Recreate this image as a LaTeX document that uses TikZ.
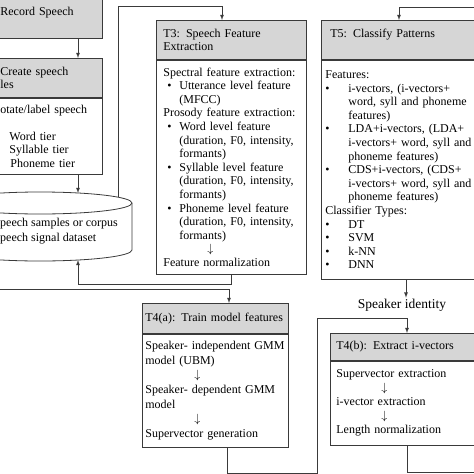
\documentclass[tikz,border=0pt]{standalone}
\usepackage{fontspec}
\setmainfont{Liberation Serif}
\usetikzlibrary{positioning}

\definecolor{headgray}{HTML}{D6D6D6}
\definecolor{boxline}{HTML}{3A3A3A}

\newcommand{\bul}[1]{\makebox[16pt][l]{\hspace*{4pt}\textbullet}#1}
\newcommand{\bulcont}[1]{\hspace*{16pt}#1}
\newcommand{\tbul}[1]{\makebox[23pt][l]{\textbullet}#1}
\newcommand{\tbulcont}[1]{\hspace*{23pt}#1}

\tikzset{
  box/.style={draw=boxline, line width=0.8pt, anchor=north west, align=left, inner xsep=7pt, inner ysep=3pt, font=\fontsize{12}{13.6}\selectfont},
  headbox/.style={box, fill=headgray},
  bodybox/.style={box, fill=white},
  wire/.style={draw=boxline, line width=0.8pt},
  link/.style={wire, ->, >=latex},
}

\begin{document}
\begin{tikzpicture}[x=1pt, y=-1pt]
\useasboundingbox (0,0) rectangle (474,474);
\clip (0,0) rectangle (474,474);

\coordinate (colA) at (78, 0);
\coordinate (colC) at (222, 0);
\coordinate (colD) at (231, 0);
\coordinate (colE) at (229, 0);
\coordinate (colF) at (399, 0);
\coordinate (colG) at (406, 0);
\coordinate (colH) at (227, 0);
\coordinate (colI) at (407, 0);
\coordinate (rowtop) at (0, 6);
\coordinate (leftin) at (-5, 289);
\coordinate (rightin) at (480, 7);
\coordinate (jogA) at (317, 473);
\coordinate (jogB) at (317, 318);
\coordinate (rightout) at (480, 472);

% left column
\node[headbox, text width=95pt, minimum height=40pt] (rec) at (-7, -2) {Record Speech\\\mbox{}};
\node[headbox, text width=95pt, minimum height=39pt] (crh) at (-7, 58) {Create speech\\les};
\node[bodybox, text width=95pt, minimum height=76pt] (crb) at (crh.south west) {otate/label speech\\\mbox{}\\\hspace*{9pt}Word tier\\\hspace*{9pt}Syllable tier\\\hspace*{10pt}Phoneme tier};

% speech data store
\draw[wire, fill=white] (-52, 203) -- (-52, 250) arc[start angle=180, end angle=0, x radius=92, y radius=11] -- (132, 203) arc[start angle=0, end angle=-180, x radius=92, y radius=11] -- cycle;
\draw[wire] (-52, 203) arc[start angle=180, end angle=0, x radius=92, y radius=11];
\coordinate (dbin) at (78, 193);
\coordinate (dbout) at (118, 197);
\coordinate (dbbot) at (78, 260);
\node[font=\fontsize{12}{13.6}\selectfont, align=left, anchor=west, inner sep=0pt] (db) at (0, 231) {peech samples or corpus\\[2pt]peech signal dataset};

% T3
\node[headbox, text width=136pt, minimum height=39pt] (t3h) at (156, 20) {T3: Speech Feature\\Extraction};
\node[bodybox, text width=136pt, minimum height=214pt] (t3b) at (t3h.south west) {Spectral feature extraction:\\
\bul{Utterance level feature}\\
\bulcont{(MFCC)}\\
Prosody feature extraction:\\
\bul{Word level feature}\\
\bulcont{(duration, F0, intensity,}\\
\bulcont{formants)}\\
\bul{Syllable level feature}\\
\bulcont{(duration, F0, intensity,}\\
\bulcont{formants)}\\
\bul{Phoneme level feature}\\
\bulcont{(duration, F0, intensity,}\\
\bulcont{formants)}\\
\hspace*{44pt}$\downarrow$\\
Feature normalization};

% T5
\node[headbox, inner xsep=9pt, text width=151pt, minimum height=39pt] (t5h) at (321, 20) {T5: Classify Patterns\\\mbox{}};
\node[bodybox, inner xsep=4pt, text width=161pt, minimum height=219pt] (t5b) at (t5h.south west) {Features:\\
\tbul{i-vectors, (i-vectors+}\\
\tbulcont{word, syll and phoneme}\\
\tbulcont{features)}\\
\tbul{LDA+i-vectors, (LDA+}\\
\tbulcont{i-vectors+ word, syll and}\\
\tbulcont{phoneme features)}\\
\tbul{CDS+i-vectors, (CDS+}\\
\tbulcont{i-vectors+ word, syll and}\\
\tbulcont{phoneme features)}\\
Classifier Types:\\
\tbul{DT}\\
\tbul{SVM}\\
\tbul{k-NN}\\
\tbul{DNN}};

\node[font=\fontsize{13.5}{16}\selectfont, inner sep=1pt] (spk) at (402, 305) {Speaker identity};

% T4(a) and T4(b)
\node[headbox, inner xsep=3pt, text width=140pt, minimum height=30pt] (t4ah) at (142, 303) {T4(a): Train model features};
\node[bodybox, inner xsep=3pt, text width=140pt, minimum height=113pt] (t4ab) at (t4ah.south west) {Speaker- independent GMM\\[1pt]
model (UBM)\\[1pt]
\hspace*{49pt}$\downarrow$\\[1pt]
Speaker- dependent GMM\\[1pt]
model\\[1pt]
\hspace*{49pt}$\downarrow$\\[1pt]
Supervector generation};
\node[headbox, inner xsep=6pt, text width=148pt, minimum height=27pt] (t4bh) at (330, 333) {T4(b): Extract i-vectors};
\node[bodybox, inner xsep=6pt, text width=148pt, minimum height=84pt] (t4bb) at (t4bh.south west) {Supervector extraction\\[0.4pt]
\hspace*{45pt}$\downarrow$\\[0.4pt]
i-vector extraction\\[0.4pt]
\hspace*{45pt}$\downarrow$\\[0.4pt]
Length normalization};

% connectors
\draw[link] (rec.south -| colA) -- (crh.north -| colA);
\draw[link] (crb.south -| colA) -- (dbin);
\draw[link] (dbout) -- (dbout |- rowtop) -| (t3h.north -| colC);
\draw[link] (t3b.south -| colD) -- ++(0, 10) -| (dbbot);
\draw[link] (leftin) -| (t4ah.north -| colE);
\draw[link] (rightin) -| (t5h.north -| colF);
\draw[link] (t5b.south -| colG) -- (spk.north -| colG);
\draw[link] (t4ab.south -| colH) |- (jogA) -- (jogB) -| (t4bh.north -| colI);
\draw[wire] (t4bb.south -| colI) |- (rightout);

\end{tikzpicture}
\end{document}
